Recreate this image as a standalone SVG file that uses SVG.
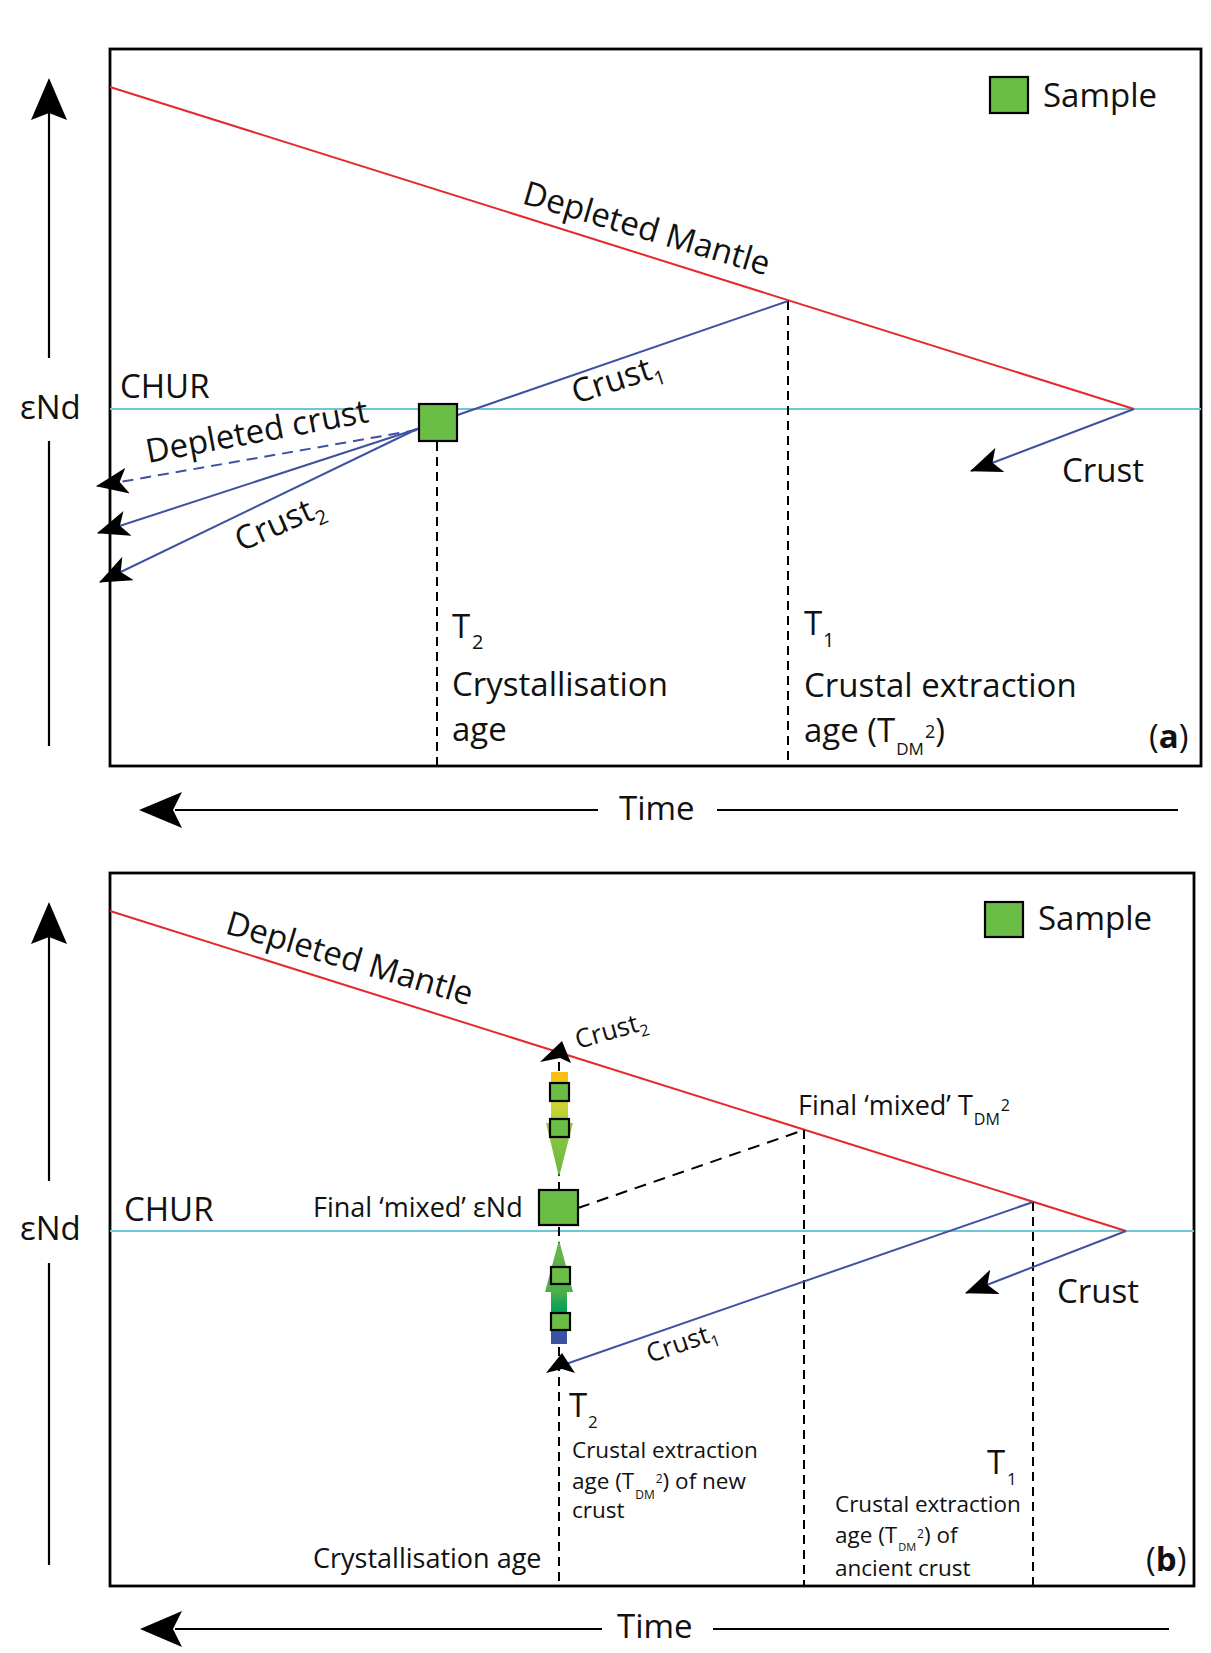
<svg xmlns="http://www.w3.org/2000/svg" width="1211" height="1653" viewBox="0 0 1211 1653">
<defs>
<style>
text { font-family: "Open Sans", "Noto Sans", "Liberation Sans", sans-serif; fill: #111; }
.lg { font-size: 33px; }
.md { font-size: 27px; }
.cr { font-size: 26px; }
.sm { font-size: 22.5px; }
.frame { fill: none; stroke: #000; stroke-width: 2.8; }
.axis { stroke: #000; stroke-width: 2.2; fill: none; }
.dm { stroke: #e42a2d; stroke-width: 2; fill: none; }
.chur { stroke: #6ec6d9; stroke-width: 2; fill: none; }
.crust { stroke: #3f51a3; stroke-width: 2; fill: none; }
.crustdash { stroke: #3f51a3; stroke-width: 2; fill: none; stroke-dasharray: 11 7; }
.vdash { stroke: #000; stroke-width: 2; stroke-dasharray: 9 6; fill: none; }
.mixdash { stroke: #000; stroke-width: 2; stroke-dasharray: 12 8; fill: none; }
.samp { fill: #6abd45; stroke: #000; stroke-width: 2.2; }
.head { fill: #000; }
</style>
<marker id="ah" markerUnits="userSpaceOnUse" markerWidth="32" markerHeight="26" refX="31" refY="13" orient="auto" viewBox="0 0 32 26">
<path d="M32,13 L0,0 L8,13 L0,26 Z" fill="#000"/>
</marker>
<linearGradient id="gDown" gradientUnits="userSpaceOnUse" x1="0" y1="1072" x2="0" y2="1177">
<stop offset="0" stop-color="#fbbd10"/>
<stop offset="0.15" stop-color="#e9c91c"/>
<stop offset="0.35" stop-color="#c7d531"/>
<stop offset="0.55" stop-color="#8fc640"/>
<stop offset="1" stop-color="#66b646"/>
</linearGradient>
<linearGradient id="gUp" gradientUnits="userSpaceOnUse" x1="0" y1="1240" x2="0" y2="1344">
<stop offset="0" stop-color="#6ab746"/>
<stop offset="0.5" stop-color="#4bb04a"/>
<stop offset="0.63" stop-color="#12a450"/>
<stop offset="0.76" stop-color="#009a6a"/>
<stop offset="0.88" stop-color="#3a55a5"/>
<stop offset="1" stop-color="#3c4fa2"/>
</linearGradient>
</defs>

<rect width="1211" height="1653" fill="#fff"/>

<!-- ================= PANEL A ================= -->
<g id="panel-a">
  <g id="a-frame"><rect class="frame" x="110" y="49" width="1091" height="717"/></g>

  <g id="a-yaxis">
    <line class="axis" x1="49" y1="112" x2="49" y2="358"/>
    <polygon class="head" points="49,78 67,120 49,113 31,120"/>
    <line class="axis" x1="49" y1="441" x2="49" y2="746"/>
    <text class="lg" x="20" y="419">εNd</text>
  </g>

  <g id="a-xaxis">
    <polygon class="head" points="139,810 182,792 173,810 182,828"/>
    <line class="axis" x1="175" y1="810" x2="598" y2="810"/>
    <text class="lg" x="619" y="820">Time</text>
    <line class="axis" x1="717" y1="810" x2="1178" y2="810"/>
  </g>

  <g id="a-connectors">
    <line class="chur" x1="110" y1="409" x2="1201" y2="409"/>
    <line class="dm" x1="110" y1="87" x2="1134" y2="409"/>
    <line class="vdash" x1="437" y1="442" x2="437" y2="766"/>
    <line class="vdash" x1="788" y1="301" x2="788" y2="766"/>
    <line class="crust" x1="417" y1="429" x2="788" y2="301"/>
    <line class="crustdash" x1="417" y1="430" x2="97" y2="486" marker-end="url(#ah)"/>
    <line class="crust" x1="417" y1="429" x2="98" y2="533" marker-end="url(#ah)"/>
    <line class="crust" x1="417" y1="429" x2="100" y2="582" marker-end="url(#ah)"/>
    <line class="crust" x1="1134" y1="409" x2="971" y2="471" marker-end="url(#ah)"/>
  </g>

  <g id="a-sample"><rect class="samp" x="419" y="404" width="38" height="37"/></g>

  <g id="a-legend">
    <rect class="samp" x="990" y="77" width="38" height="36"/>
    <text class="lg" x="1043" y="107">Sample</text>
  </g>

  <g id="a-labels">
    <text class="lg" transform="translate(521,203) rotate(16.5)">Depleted Mantle</text>
    <text class="lg" x="120" y="398">CHUR</text>
    <text class="lg" transform="translate(576,404) rotate(-18)">Crust<tspan dy="8" font-size="20">1</tspan></text>
    <text class="lg" transform="translate(148,463) rotate(-10.5)">Depleted crust</text>
    <text class="lg" transform="translate(241,552) rotate(-24)">Crust<tspan dy="8" font-size="20">2</tspan></text>
    <text class="lg" x="1062" y="482">Crust</text>
    <text class="lg" x="452" y="638">T<tspan x="472" y="649" font-size="20">2</tspan></text>
    <text class="lg" x="452" y="696">Crystallisation</text>
    <text class="lg" x="452" y="741">age</text>
    <text class="lg" x="804" y="635">T<tspan x="823" y="647" font-size="20">1</tspan></text>
    <text class="lg" x="804" y="697">Crustal extraction</text>
    <text class="lg" x="804" y="742">age (T<tspan dx="1" dy="13" font-size="17">DM</tspan><tspan dx="1" dy="-17" font-size="18">2</tspan><tspan dy="4">)</tspan></text>
    <text class="lg" x="1149" y="748">(<tspan font-weight="bold">a</tspan>)</text>
  </g>
</g>

<!-- ================= PANEL B ================= -->
<g id="panel-b">
  <g id="b-frame"><rect class="frame" x="110" y="873" width="1084" height="713"/></g>

  <g id="b-yaxis">
    <line class="axis" x1="49" y1="936" x2="49" y2="1181"/>
    <polygon class="head" points="49,902 67,944 49,937 31,944"/>
    <line class="axis" x1="49" y1="1263" x2="49" y2="1565"/>
    <text class="lg" x="20" y="1240">εNd</text>
  </g>

  <g id="b-xaxis">
    <polygon class="head" points="140,1629 182,1611 173,1629 182,1647"/>
    <line class="axis" x1="175" y1="1629" x2="602" y2="1629"/>
    <text class="lg" x="617" y="1638">Time</text>
    <line class="axis" x1="713" y1="1629" x2="1169" y2="1629"/>
  </g>

  <g id="b-connectors">
    <line class="chur" x1="110" y1="1231" x2="1194" y2="1231"/>
    <line class="dm" x1="110" y1="911" x2="1126" y2="1231"/>
    <line class="vdash" x1="559" y1="1062" x2="559" y2="1586"/>
    <line class="vdash" x1="804" y1="1130" x2="804" y2="1586"/>
    <line class="vdash" x1="1033" y1="1202" x2="1033" y2="1586"/>
    <line class="mixdash" x1="578" y1="1208" x2="804" y2="1130"/>
    <line class="crust" x1="1033" y1="1202" x2="566" y2="1364"/>
    <polygon class="head" points="562,1353 575,1373 562,1369 546,1373"/>
    <polygon class="head" points="562,1041 571,1063 560,1058 540,1062"/>
    <line class="crust" x1="1126" y1="1231" x2="966" y2="1293" marker-end="url(#ah)"/>
  </g>

  <g id="b-mix-down">
    <path d="M551,1072 H568 V1123 H573 L559,1177 L546,1123 H551 Z" fill="url(#gDown)"/>
    <rect class="samp" x="550" y="1083" width="19" height="18"/>
    <rect class="samp" x="550" y="1119" width="19" height="18"/>
  </g>

  <g id="b-mix-up">
    <path d="M559,1240 L573,1292 H567 V1344 H551 V1292 H545 Z" fill="url(#gUp)"/>
    <rect class="samp" x="551" y="1267" width="19" height="17"/>
    <rect class="samp" x="551" y="1313" width="19" height="17"/>
  </g>

  <g id="b-sample"><rect class="samp" x="539" y="1190" width="39" height="35"/></g>

  <g id="b-legend">
    <rect class="samp" x="985" y="902" width="38" height="35"/>
    <text class="lg" x="1038" y="930">Sample</text>
  </g>

  <g id="b-labels">
    <text class="lg" transform="translate(224,933) rotate(16.5)">Depleted Mantle</text>
    <text class="lg" x="124" y="1221">CHUR</text>
    <text class="md" x="313" y="1217">Final ‘mixed’ εNd</text>
    <text class="md" x="798" y="1115">Final ‘mixed’ T<tspan dx="1" dy="10" font-size="16">DM</tspan><tspan dx="1" dy="-14" font-size="16">2</tspan></text>
    <text class="cr" transform="translate(578,1049) rotate(-16)">Crust<tspan dy="6" font-size="16">2</tspan></text>
    <text class="cr" transform="translate(650,1363) rotate(-19)">Crust<tspan dy="6" font-size="16">1</tspan></text>
    <text class="lg" x="1057" y="1303">Crust</text>
    <text class="lg" x="569" y="1417" font-size="32">T<tspan x="588" y="1428" font-size="17">2</tspan></text>
    <text class="sm" x="572" y="1458">Crustal extraction</text>
    <text class="sm" x="572" y="1489">age (T<tspan dx="1" dy="10" font-size="12">DM</tspan><tspan dx="1" dy="-16" font-size="12">2</tspan><tspan dy="6">) of new</tspan></text>
    <text class="sm" x="572" y="1518">crust</text>
    <text class="md" x="313" y="1568">Crystallisation age</text>
    <text class="lg" x="987" y="1474" font-size="32">T<tspan x="1007" y="1485" font-size="17">1</tspan></text>
    <text class="sm" x="835" y="1512">Crustal extraction</text>
    <text class="sm" x="835" y="1543">age (T<tspan dx="1" dy="8" font-size="11">DM</tspan><tspan dx="1" dy="-13" font-size="12">2</tspan><tspan dy="5">) of</tspan></text>
    <text class="sm" x="835" y="1576">ancient crust</text>
    <text class="lg" x="1146" y="1571">(<tspan font-weight="bold">b</tspan>)</text>
  </g>
</g>
</svg>
